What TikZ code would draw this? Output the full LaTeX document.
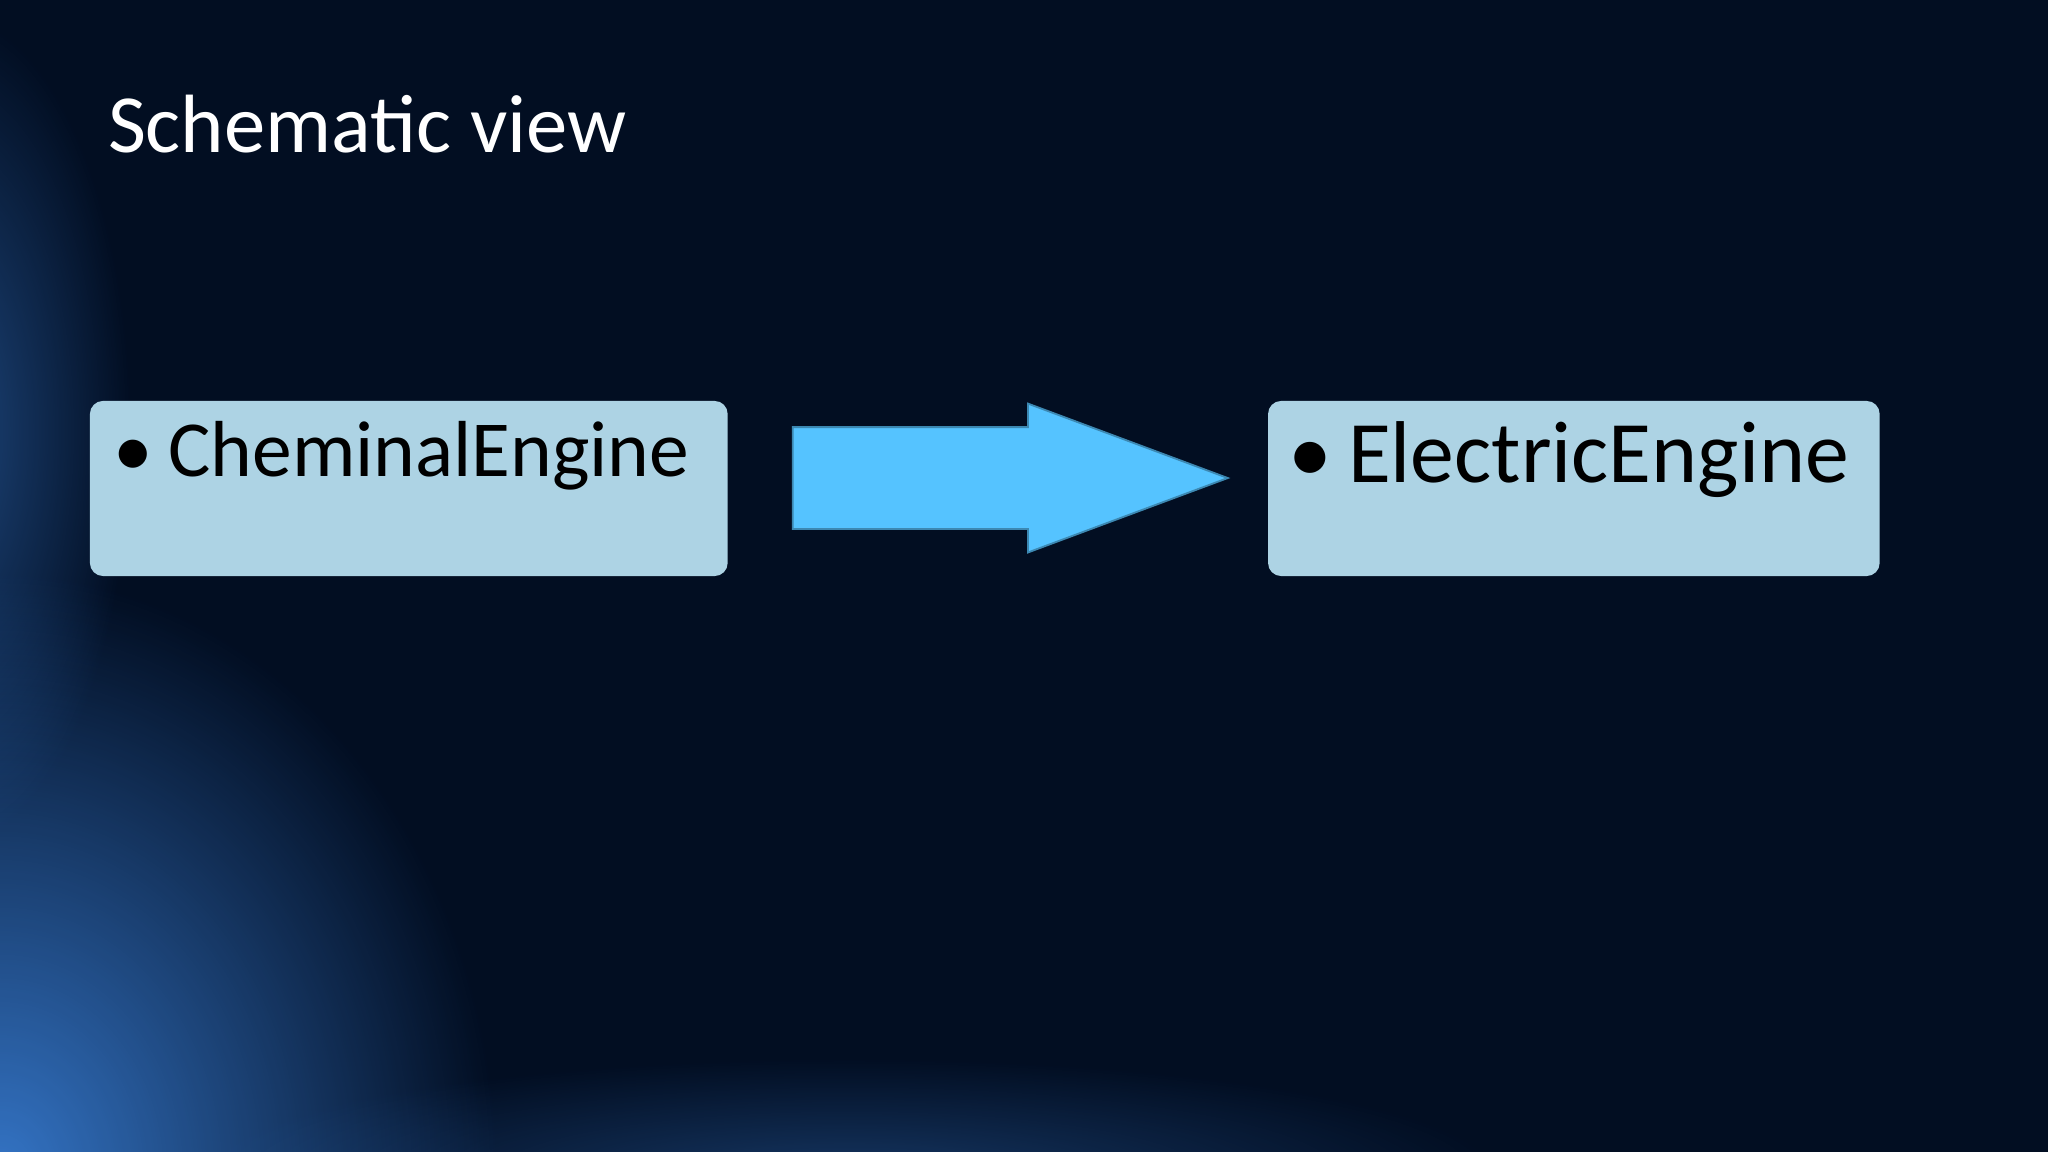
\documentclass[tikz,border=0pt]{standalone}
\usepackage{fontspec}
\setmainfont{Carlito}
\usetikzlibrary{fadings}
\tikzfading[name=softglow, inner color=transparent!0, outer color=transparent!100]
\definecolor{bg}{HTML}{020E22}
\definecolor{boxfill}{HTML}{ADD3E4}
\definecolor{arrowfill}{HTML}{55C3FF}
\definecolor{glow}{HTML}{3A80D8}
\begin{document}
\begin{tikzpicture}[x=0.01cm,y=-0.01cm,
  engbox/.style={fill=boxfill,rounded corners=0.1cm,minimum height=1.34cm,inner sep=0pt},
  boxtext/.style={anchor=north west,text=black,inner sep=0pt}]
\useasboundingbox (0,0) rectangle (1568,882);
\fill[bg] (0,0) rectangle (1568,882);
\begin{scope}
\clip (0,0) rectangle (1568,882);
\fill[glow,path fading=softglow,opacity=0.9] (0,900) ellipse (380 and 460);
\fill[glow,path fading=softglow,opacity=0.5] (-40,330) ellipse (140 and 320);
\fill[glow,path fading=softglow,opacity=0.35] (650,900) ellipse (500 and 90);
\end{scope}
\node[anchor=base west,text=white,inner sep=0pt,font=\fontsize{18}{21}\selectfont] (title) at (82,117) {Schematic view};
\node[engbox,minimum width=4.88cm] (b1) at (313,374) {};
\node[engbox,minimum width=4.68cm] (b2) at (1205,374) {};
\node[boxtext,font=\fontsize{17.3}{20}\selectfont] (t1) at (86,322) {\textbullet\hspace{0.12cm}CheminalEngine};
\node[boxtext,font=\fontsize{19.1}{22}\selectfont] (t2) at (986,322) {\textbullet\hspace{0.12cm}ElectricEngine};
\filldraw[fill=arrowfill,draw=arrowfill!70!black,line width=0.4pt] (607,327) -- (787,327) -- (787,309) -- (940,366) -- (787,423) -- (787,405) -- (607,405) -- cycle;
\end{tikzpicture}
\end{document}
